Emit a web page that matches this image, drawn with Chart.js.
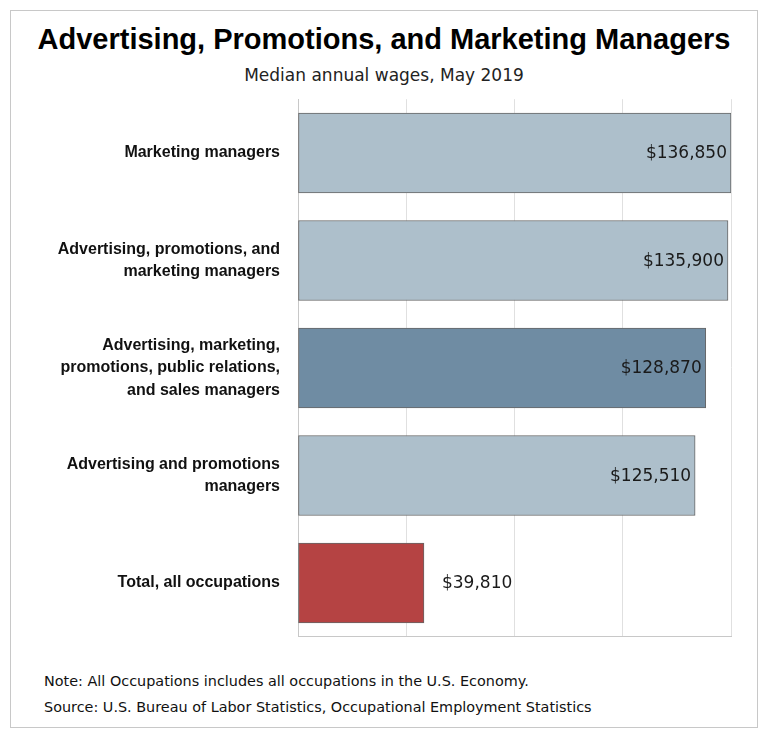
<!DOCTYPE html>
<html>
<head>
<meta charset="utf-8">
<script src="https://cdn.jsdelivr.net/npm/chart.js@4"></script>
<style>
  body { margin: 0; background: #fff; }
  #box { position: absolute; left: 10px; top: 10px; width: 746px; height: 716px; border: 1px solid #c8c8c8; }
  #title { position: absolute; left: 0; width: 746px; top: 12px; text-align: center; font: bold 29px "Liberation Sans", Arial, sans-serif; color: #000; }
  #sub { position: absolute; left: 0; width: 746px; top: 54px; text-align: center; font: 17px "DejaVu Sans", sans-serif; color: #222; }
  #wrap { position: absolute; left: 0; top: 67px; width: 746px; height: 580px; }
  .note { position: absolute; left: 33px; font: 14.4px "DejaVu Sans", sans-serif; color: #111; }
</style>
</head>
<body>
<div id="box">
  <div id="title">Advertising, Promotions, and Marketing Managers</div>
  <div id="sub">Median annual wages, May 2019</div>
  <div id="wrap"><canvas id="chart"></canvas></div>
  <div class="note" style="top:662px">Note: All Occupations includes all occupations in the U.S. Economy.</div>
  <div class="note" style="top:688px">Source: U.S. Bureau of Labor Statistics, Occupational Employment Statistics</div>
</div>
<script>
// occupations and median wages
const categories = [
    ['Marketing managers'],
    ['Advertising, promotions, and', 'marketing managers'],
    ['Advertising, marketing,', 'promotions, public relations,', 'and sales managers'],
    ['Advertising and promotions', 'managers'],
    ['Total, all occupations']
];
const wages = [136850, 135900, 128870, 125510, 39810];
const barColors = ['#adbfcb', '#adbfcb', '#6f8ca3', '#adbfcb', '#b54343'];
const axisMax = 136850;

// draw $ labels at the end of each bar
const valueLabels = {
    id: 'valueLabels',
    afterDatasetsDraw(chart) {
        const ctx = chart.ctx;
        const meta = chart.getDatasetMeta(0);
        ctx.save();
        ctx.font = '17px "DejaVu Sans", sans-serif';
        ctx.fillStyle = '#1a1a1a';
        ctx.textBaseline = 'middle';
        meta.data.forEach((bar, i) => {
            const txt = '$' + wages[i].toLocaleString('en-US');
            if (wages[i] > 60000) {
                ctx.textAlign = 'right';
                ctx.fillText(txt, bar.x - 4, bar.y + 1);
            } else {
                ctx.textAlign = 'left';
                ctx.fillText(txt, bar.x + 18, bar.y + 1);
            }
        });
        ctx.restore();
    }
};

new Chart(document.getElementById('chart'), {
    type: 'bar',
    data: {
        labels: categories,
        datasets: [{
            data: wages,
            backgroundColor: barColors,
            borderColor: '#666',
            borderWidth: 1,
            borderSkipped: false,
            barThickness: 80
        }]
    },
    options: {
        indexAxis: 'y',
        responsive: true,
        maintainAspectRatio: false,
        animation: false,
        layout: { padding: { right: 26, top: 0, bottom: 1 } },
        scales: {
            x: {
                min: 0,
                max: axisMax,
                ticks: { display: false, stepSize: axisMax / 4 },
                grid: { color: '#e0e0e0', drawTicks: false },
                border: { color: '#c8c8c8' }
            },
            y: {
                afterFit: scale => { scale.width = 287; },
                grid: { display: false },
                border: { color: '#c8c8c8' },
                ticks: {
                    color: '#111',
                    padding: 10,
                    font: { family: 'Arial', size: 16, weight: 'bold', lineHeight: 1.4 }
                }
            }
        },
        plugins: {
            legend: { display: false },
            tooltip: { enabled: false }
        }
    },
    plugins: [valueLabels]
});
</script>
</body>
</html>
